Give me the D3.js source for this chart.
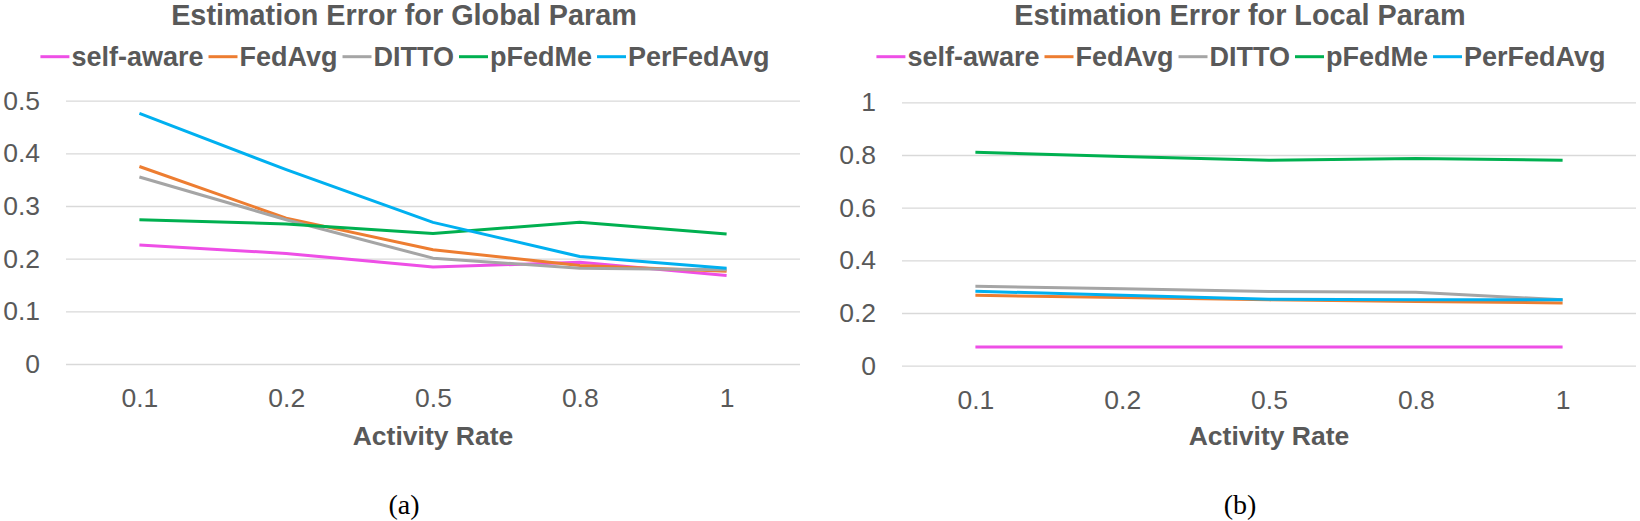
<!DOCTYPE html>
<html>
<head>
<meta charset="utf-8">
<script src="https://cdn.jsdelivr.net/npm/d3@7"></script>
<style>
  body { margin: 0; background: #fff; }
  svg text { font-family: "Liberation Sans", Arial, sans-serif; fill: #595959; }
  .axis .domain { display: none; }
  .grid line { stroke: #d9d9d9; stroke-width: 1.3; }
  .caption { font-family: "Liberation Serif", "Times New Roman", serif !important; fill: #000 !important; }
</style>
</head>
<body>
<svg width="1640" height="521"></svg>
<script>
var categories = ["0.1", "0.2", "0.5", "0.8", "1"];
var seriesNames = ["self-aware", "FedAvg", "DITTO", "pFedMe", "PerFedAvg"];
var colors = ["#ee4fe6", "#ed7d31", "#a5a5a5", "#00b050", "#00b0f0"];

// (a) global param
var selfAwareG = [0.226, 0.210, 0.184, 0.193, 0.168];
var fedAvgG    = [0.375, 0.277, 0.217, 0.187, 0.176];
var dittoG     = [0.355, 0.274, 0.201, 0.182, 0.179];
var pFedMeG    = [0.274, 0.266, 0.248, 0.269, 0.247];
var perFedAvgG = [0.476, 0.369, 0.269, 0.204, 0.182];
var ticksG = [0, 0.1, 0.2, 0.3, 0.4, 0.5];

// (b) local param
var selfAwareL = [0.071, 0.071, 0.071, 0.071, 0.071];
var fedAvgL    = [0.267, 0.259, 0.250, 0.244, 0.238];
var dittoL     = [0.302, 0.292, 0.282, 0.279, 0.250];
var pFedMeL    = [0.810, 0.794, 0.780, 0.787, 0.780];
var perFedAvgL = [0.283, 0.267, 0.252, 0.250, 0.250];
var ticksL = [0, 0.2, 0.4, 0.6, 0.8, 1];

var svg = d3.select("svg");

function drawChart(opt) {
  var g = svg.append("g");

  var x = d3.scalePoint()
      .domain(categories)
      .range([opt.left, opt.right])
      .padding(0.5);

  var y = d3.scaleLinear()
      .domain([0, opt.max])
      .range([opt.bottom, opt.top]);

  // gridlines + y labels
  g.append("g")
      .attr("class", "axis grid")
      .attr("transform", "translate(" + opt.left + ",0)")
      .call(d3.axisLeft(y)
        .tickValues(opt.ticks)
        .tickSize(-(opt.right - opt.left))
        .tickPadding(26)
        .tickFormat(function(d) { return String(+d.toFixed(1)); }))
      .selectAll("text")
      .style("font-size", "26.5px");

  // x labels
  g.append("g")
      .attr("class", "axis")
      .attr("transform", "translate(0," + opt.bottom + ")")
      .call(d3.axisBottom(x).tickSize(0).tickPadding(24))
      .selectAll("text")
      .style("font-size", "26.5px");

  g.append("text")
      .attr("x", (opt.left + opt.right) / 2)
      .attr("y", 445)
      .attr("text-anchor", "middle")
      .style("font-size", "26.5px")
      .style("font-weight", "bold")
      .text("Activity Rate");

  g.append("text")
      .attr("x", opt.center)
      .attr("y", 24.5)
      .attr("text-anchor", "middle")
      .style("font-size", "28.8px")
      .style("font-weight", "bold")
      .text(opt.title);

  var line = d3.line()
      .x(function(d, i) { return x(categories[i]); })
      .y(function(d) { return y(d); });

  opt.series.forEach(function(s, i) {
    g.append("path")
        .datum(s)
        .attr("fill", "none")
        .attr("stroke", colors[i])
        .attr("stroke-width", 3)
        .attr("stroke-linejoin", "round")
        .attr("d", line);
  });

  // legend
  var leg = g.append("g");
  var cx = 0;
  seriesNames.forEach(function(name, i) {
    leg.append("line")
        .attr("x1", cx).attr("x2", cx + 29)
        .attr("y1", 0).attr("y2", 0)
        .attr("stroke", colors[i])
        .attr("stroke-width", 3);
    var t = leg.append("text")
        .attr("x", cx + 31)
        .attr("y", 0)
        .attr("dy", "0.35em")
        .style("font-size", "27px")
        .style("font-weight", "bold")
        .text(name);
    cx += 31 + t.node().getComputedTextLength() + 5;
  });
  cx -= 5;
  leg.attr("transform", "translate(" + (opt.legendCenter - cx / 2) + ",56.7)");

  g.append("text")
      .attr("class", "caption")
      .attr("x", opt.center)
      .attr("y", 514)
      .attr("text-anchor", "middle")
      .style("font-size", "28px")
      .text(opt.caption);
}

drawChart({
  title: "Estimation Error for Global Param",
  caption: "(a)",
  left: 66, right: 800, top: 100.7, bottom: 364,
  max: 0.5, ticks: ticksG,
  center: 404, legendCenter: 405,
  series: [selfAwareG, fedAvgG, dittoG, pFedMeG, perFedAvgG]
});

drawChart({
  title: "Estimation Error for Local Param",
  caption: "(b)",
  left: 902, right: 1636, top: 102.3, bottom: 365.7,
  max: 1, ticks: ticksL,
  center: 1240, legendCenter: 1241,
  series: [selfAwareL, fedAvgL, dittoL, pFedMeL, perFedAvgL]
});
</script>
</body>
</html>
